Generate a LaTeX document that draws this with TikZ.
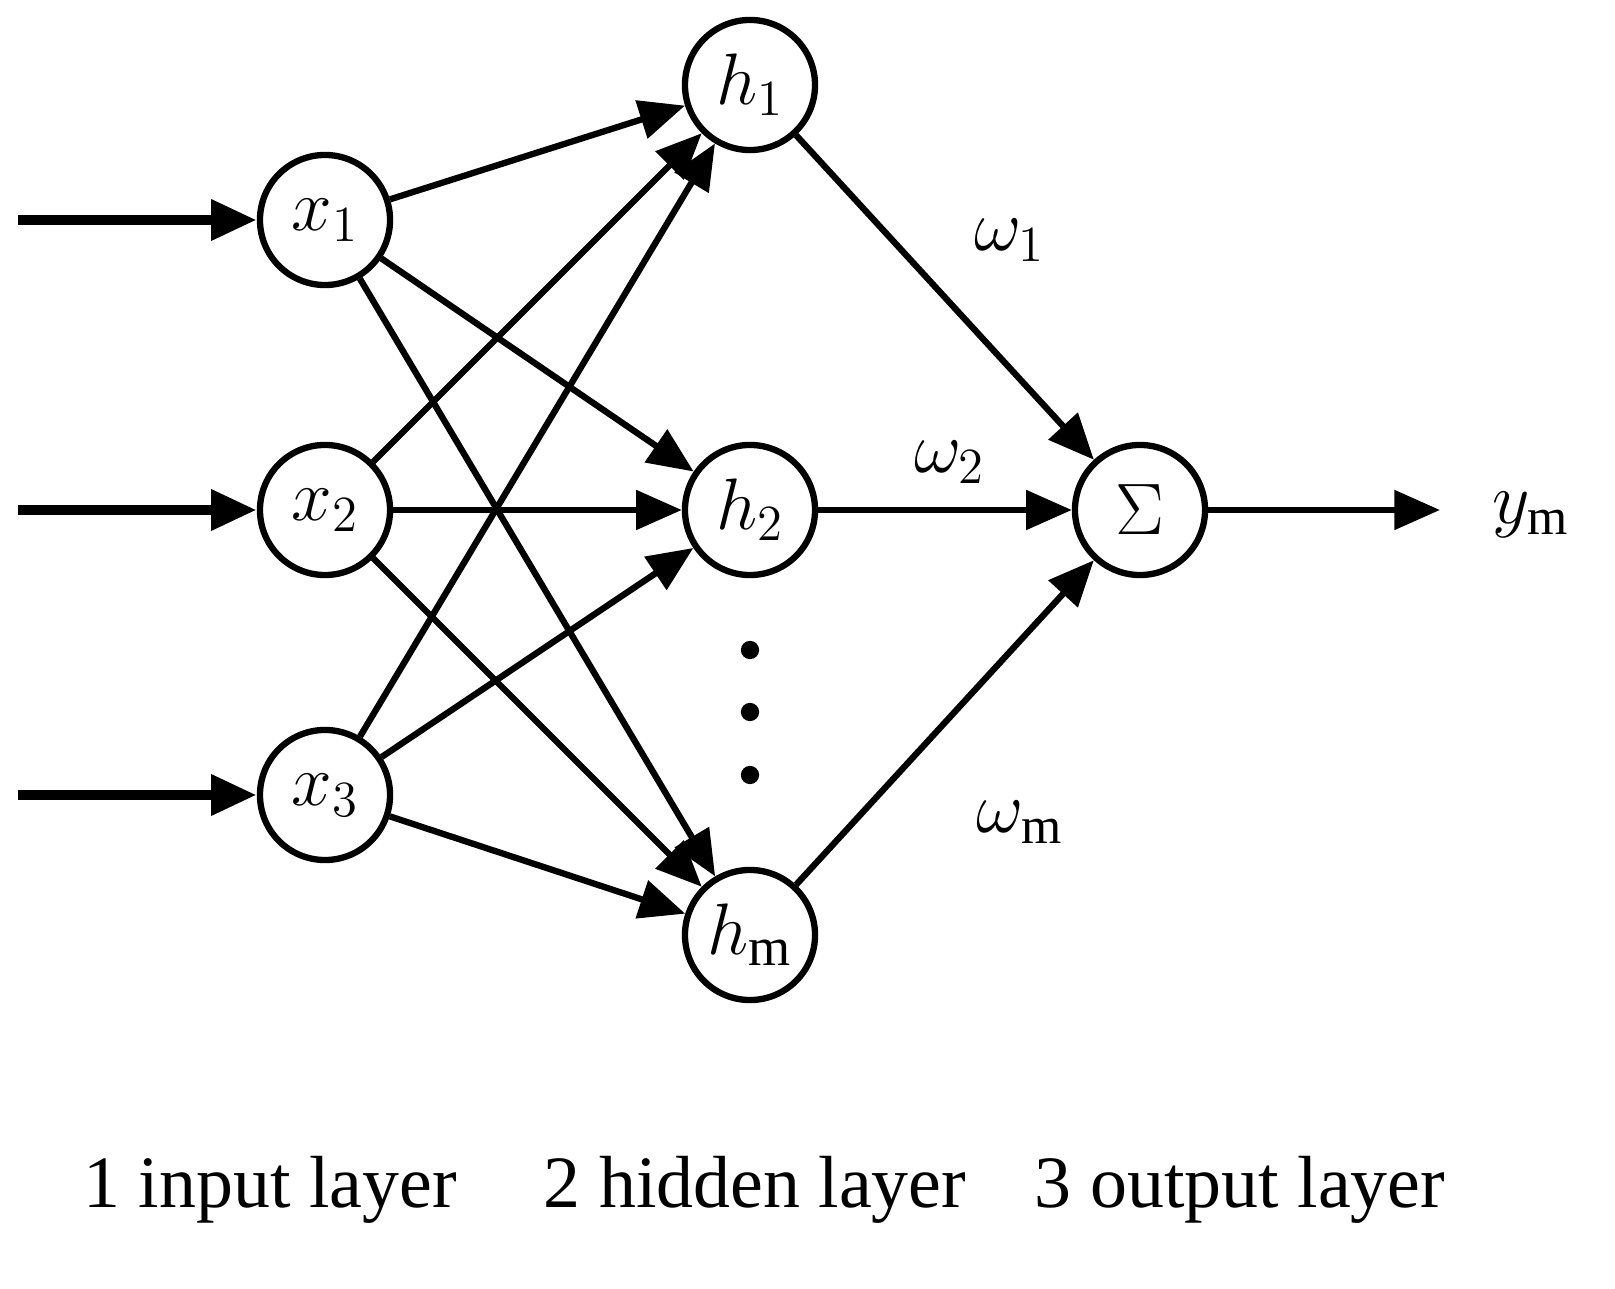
\documentclass[tikz,border=0pt]{standalone}
\usepackage{fontspec}
\setmainfont{Liberation Serif}
\usetikzlibrary{arrows.meta}
\begin{document}
\begin{tikzpicture}[x=0.01cm, y=-0.01cm, line width=1.8pt,
    neuron/.style={circle, draw, minimum size=1.3cm, inner sep=0pt, font=\fontsize{22}{26}\selectfont},
    conn/.style={-{Triangle[length=13pt,width=11pt]}},
    lbl/.style={font=\fontsize{21}{25}\selectfont}]
    \useasboundingbox (0,0) rectangle (1615,1289);
    %input layer
    \node[neuron] (x1) at (325,220) {$x_1$};
    \node[neuron] (x2) at (325,510) {$x_2$};
    \node[neuron] (x3) at (325,795) {$x_3$};
    %hidden layer
    \node[neuron] (h1) at (750,85) {$h_1$};
    \node[neuron] (h2) at (750,510) {$h_2$};
    \node[neuron] (hm) at (750,935) {$h_{\mathrm{m}}$};
    %output
    \node[neuron] (s) at (1140,510) {$\Sigma$};
    \coordinate (out) at (1440,510);
    \node[lbl, anchor=west] (y) at (1478,515) {$y_{\mathrm{m}}$};
    \foreach \i/\y in {1/220,2/510,3/795} {
        \coordinate (in\i) at (18,\y);
        \draw[conn, line width=3pt] (in\i) -- (x\i);
    }
    %connections
    \foreach \i in {1,2,3}
        \foreach \j in {1,2,m}
            \draw[conn] (x\i) -- (h\j);
    \foreach \j in {1,2,m}
        \draw[conn] (h\j) -- (s);
    \draw[conn] (s) -- (out);
    %dots
    \foreach \y in {650,712,775}
        \fill (750,\y) circle (2.6pt);
    %weights
    \node[lbl] (w1) at (1010,240) {$\omega_1$};
    \node[lbl] (w2) at (950,462) {$\omega_2$};
    \node[lbl] (wm) at (1020,822) {$\omega_{\mathrm{m}}$};
    %layer names
    \node[lbl] (l1) at (270,1190) {1 input layer};
    \node[lbl] (l2) at (755,1190) {2 hidden layer};
    \node[lbl] (l3) at (1240,1190) {3 output layer};
\end{tikzpicture}
\end{document}
